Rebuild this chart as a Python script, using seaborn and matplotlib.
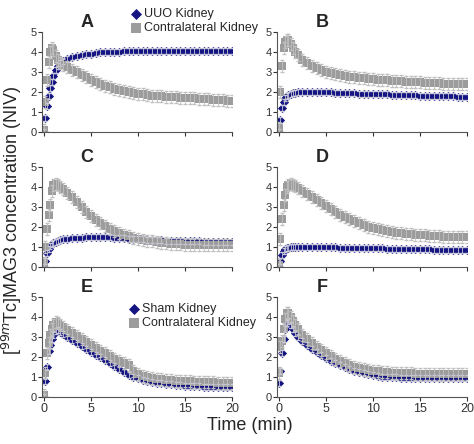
import numpy as np
import pandas as pd
import matplotlib
matplotlib.use("Agg")
import matplotlib.pyplot as plt
import seaborn as sns

sns.set_style("white")
plt.rcParams['font.family'] = ['Liberation Sans', 'DejaVu Sans']

t_early = [0, 0.17, 0.33, 0.5, 0.67, 0.83, 1.0, 1.25, 1.5, 1.75, 2.0]
t_late = [2.5 + 0.5 * i for i in range(36)]
time = t_early + t_late

a_uuo = [0, 0.7, 1.3, 1.8, 2.2, 2.5, 2.8, 3.1, 3.3, 3.45, 3.55,
         3.65, 3.75, 3.8, 3.85, 3.9, 3.9, 3.95, 4.0, 4.0, 4.0, 4.0, 4.0,
         4.05, 4.05, 4.05, 4.05, 4.05, 4.05, 4.05, 4.05, 4.05, 4.05, 4.05, 4.05,
         4.05, 4.05, 4.05, 4.05, 4.05, 4.05, 4.05, 4.05, 4.05, 4.05, 4.05, 4.05]
a_con = [0.1, 1.5, 2.6, 3.5, 4.0, 4.2, 4.1, 3.8, 3.6, 3.45, 3.35,
         3.25, 3.1, 3.0, 2.85, 2.75, 2.6, 2.5, 2.4, 2.3, 2.25, 2.15, 2.1,
         2.05, 2.0, 1.95, 1.9, 1.9, 1.85, 1.8, 1.8, 1.8, 1.75, 1.75, 1.75,
         1.7, 1.7, 1.7, 1.7, 1.65, 1.65, 1.65, 1.6, 1.6, 1.6, 1.55, 1.55]
b_uuo = [0, 0.6, 1.2, 1.5, 1.7, 1.8, 1.85, 1.9, 1.95, 1.95, 2.0,
         2.0, 2.0, 2.0, 2.0, 2.0, 2.0, 2.0, 1.95, 1.95, 1.95, 1.95, 1.95,
         1.9, 1.9, 1.9, 1.9, 1.9, 1.9, 1.9, 1.85, 1.85, 1.85, 1.85, 1.85,
         1.85, 1.8, 1.8, 1.8, 1.8, 1.8, 1.8, 1.8, 1.8, 1.75, 1.75, 1.75]
b_con = [0.2, 2.0, 3.3, 4.2, 4.5, 4.6, 4.6, 4.4, 4.2, 4.0, 3.85,
         3.6, 3.45, 3.3, 3.2, 3.1, 3.0, 2.95, 2.9, 2.85, 2.8, 2.75, 2.75,
         2.7, 2.7, 2.65, 2.65, 2.6, 2.6, 2.6, 2.55, 2.55, 2.55, 2.5, 2.5,
         2.5, 2.5, 2.45, 2.45, 2.45, 2.45, 2.4, 2.4, 2.4, 2.4, 2.4, 2.4]
c_uuo = [0, 0.3, 0.7, 0.9, 1.05, 1.15, 1.2, 1.25, 1.3, 1.35, 1.4,
         1.4, 1.45, 1.45, 1.45, 1.5, 1.5, 1.5, 1.5, 1.5, 1.5, 1.45, 1.45,
         1.45, 1.4, 1.4, 1.4, 1.4, 1.35, 1.35, 1.35, 1.35, 1.3, 1.3, 1.3,
         1.3, 1.3, 1.3, 1.3, 1.3, 1.25, 1.25, 1.25, 1.25, 1.25, 1.25, 1.25]
c_con = [0.2, 1.0, 1.9, 2.6, 3.1, 3.8, 4.1, 4.15, 4.1, 4.0, 3.9,
         3.7, 3.5, 3.25, 3.0, 2.75, 2.55, 2.35, 2.2, 2.05, 1.9, 1.8, 1.7,
         1.6, 1.55, 1.45, 1.4, 1.35, 1.3, 1.3, 1.25, 1.2, 1.2, 1.15, 1.15,
         1.15, 1.1, 1.1, 1.1, 1.1, 1.1, 1.1, 1.1, 1.1, 1.1, 1.1, 1.1]
d_uuo = [0, 0.3, 0.6, 0.8, 0.9, 0.95, 0.95, 1.0, 1.0, 1.0, 1.0,
         1.0, 1.0, 1.0, 1.0, 1.0, 1.0, 1.0, 1.0, 0.95, 0.95, 0.95, 0.95,
         0.95, 0.95, 0.95, 0.95, 0.95, 0.95, 0.9, 0.9, 0.9, 0.9, 0.9, 0.9,
         0.9, 0.9, 0.9, 0.9, 0.85, 0.85, 0.85, 0.85, 0.85, 0.85, 0.85, 0.85]
d_con = [0.1, 1.4, 2.4, 3.1, 3.6, 4.0, 4.1, 4.15, 4.1, 4.05, 3.95,
         3.8, 3.65, 3.5, 3.35, 3.2, 3.05, 2.9, 2.75, 2.6, 2.5, 2.4, 2.3,
         2.2, 2.1, 2.0, 1.95, 1.9, 1.85, 1.8, 1.75, 1.7, 1.7, 1.65, 1.65,
         1.6, 1.6, 1.6, 1.55, 1.55, 1.55, 1.5, 1.5, 1.5, 1.5, 1.5, 1.5]
e_sham = [0, 0.8, 1.5, 2.3, 2.6, 2.9, 3.1, 3.3, 3.35, 3.25, 3.15,
          3.0, 2.85, 2.7, 2.55, 2.4, 2.25, 2.1, 2.0, 1.85, 1.7, 1.55, 1.4,
          1.25, 1.1, 1.0, 0.95, 0.85, 0.8, 0.75, 0.7, 0.7, 0.65, 0.65, 0.6,
          0.6, 0.55, 0.55, 0.55, 0.55, 0.5, 0.5, 0.5, 0.5, 0.5, 0.5, 0.5]
e_con = [0.1, 1.2, 2.2, 2.7, 3.1, 3.4, 3.6, 3.75, 3.7, 3.6, 3.5,
         3.35, 3.2, 3.05, 2.9, 2.75, 2.6, 2.45, 2.3, 2.2, 2.05, 1.9, 1.8,
         1.7, 1.6, 1.3, 1.15, 1.05, 1.0, 0.95, 0.9, 0.9, 0.85, 0.85, 0.8,
         0.8, 0.8, 0.8, 0.75, 0.75, 0.75, 0.75, 0.75, 0.7, 0.7, 0.7, 0.7]
f_sham = [0.7, 1.3, 2.2, 2.9, 3.4, 3.7, 3.8, 3.6, 3.4, 3.2, 3.0,
          2.8, 2.6, 2.4, 2.25, 2.1, 1.95, 1.8, 1.7, 1.6, 1.5, 1.4, 1.3,
          1.25, 1.2, 1.15, 1.1, 1.05, 1.0, 1.0, 1.0, 1.0, 0.95, 0.95, 0.95,
          0.95, 0.95, 0.95, 0.95, 0.95, 0.95, 0.95, 0.95, 0.95, 0.95, 0.95, 0.95]
f_con = [1.2, 2.5, 2.8, 3.4, 3.9, 4.2, 4.2, 4.0, 3.8, 3.6, 3.4,
         3.1, 2.9, 2.7, 2.5, 2.35, 2.2, 2.05, 1.9, 1.8, 1.7, 1.6, 1.5,
         1.45, 1.4, 1.35, 1.3, 1.3, 1.25, 1.25, 1.2, 1.2, 1.2, 1.2, 1.2,
         1.15, 1.15, 1.15, 1.15, 1.15, 1.15, 1.15, 1.15, 1.15, 1.15, 1.15, 1.15]

panels = [("A", a_uuo, a_con), ("B", b_uuo, b_con), ("C", c_uuo, c_con),
          ("D", d_uuo, d_con), ("E", e_sham, e_con), ("F", f_sham, f_con)]
err_blue = 0.15
err_grey = 0.3
ticks_x = [0, 5, 10, 15, 20]
ticks_y = [0, 1, 2, 3, 4, 5]

BLUE = "#141482"
GREY = "#9c9c9c"
W, H = 474, 444
fig = plt.figure(figsize=(W / 100, H / 100), dpi=100)
lefts = [42, 277]
tops = [32, 167, 297]
leg_kw = dict(frameon=False, fontsize=9, handletextpad=0.1, labelspacing=0.15,
              borderpad=0, handlelength=1.0, markerscale=1.2)

for i, (lab, blue, grey) in enumerate(panels):
    r, c = divmod(i, 2)
    ax = fig.add_axes([lefts[c] / W, (H - tops[r] - 100) / H, 190 / W, 100 / H])
    ax.errorbar(time, blue, yerr=err_blue, fmt="none", ecolor="#c8c8d8", elinewidth=0.6, capsize=1.2)
    ax.errorbar(time, grey, yerr=err_grey, fmt="none", ecolor="#c0c0c0", elinewidth=0.6, capsize=1.2)
    df = pd.DataFrame({"t": time, "b": blue, "g": grey})
    bl = "Sham Kidney" if lab in "EF" else "UUO Kidney"
    sns.scatterplot(data=df, x="t", y="b", marker="D", color=BLUE, s=22, linewidth=0, ax=ax, label=bl)
    sns.scatterplot(data=df, x="t", y="g", marker="s", color=GREY, s=30, linewidth=0, ax=ax, label="Contralateral Kidney")
    ax.set_xlim(-0.2, 20)
    ax.set_ylim(0, 5)
    ax.set_xticks(ticks_x)
    ax.set_yticks(ticks_y)
    ax.set_xlabel("")
    ax.set_ylabel("")
    ax.tick_params(axis="both", direction="out", length=3, width=0.8, labelsize=8, pad=1,
                   bottom=True, left=True, colors="#333333")
    ax.tick_params(axis="x", labelsize=9)
    if r < 2:
        ax.set_xticklabels([])
    for s in ["top", "right"]:
        ax.spines[s].set_visible(False)
    for s in ["left", "bottom"]:
        ax.spines[s].set_color("#555555")
        ax.spines[s].set_linewidth(0.8)
    ax.text(4.6, 5.05, lab, fontsize=13, fontweight="bold", ha="center", va="bottom", clip_on=False)
    leg = ax.get_legend()
    if lab == "A":
        ax.legend(loc="upper left", bbox_to_anchor=(0.43, 1.3), **leg_kw)
    elif lab == "E":
        ax.legend(loc="upper left", bbox_to_anchor=(0.42, 1.0), **leg_kw)
    elif leg is not None:
        leg.remove()

fig.text(12 / W, 1 - 220 / H, r"[$^{99m}$Tc]MAG3 concentration (NIV)", rotation=90,
         ha="center", va="center", fontsize=13)
fig.text(250 / W, 1 - 425 / H, "Time (min)", ha="center", va="center", fontsize=13)
fig.savefig("out.png", dpi=100, facecolor="white")
